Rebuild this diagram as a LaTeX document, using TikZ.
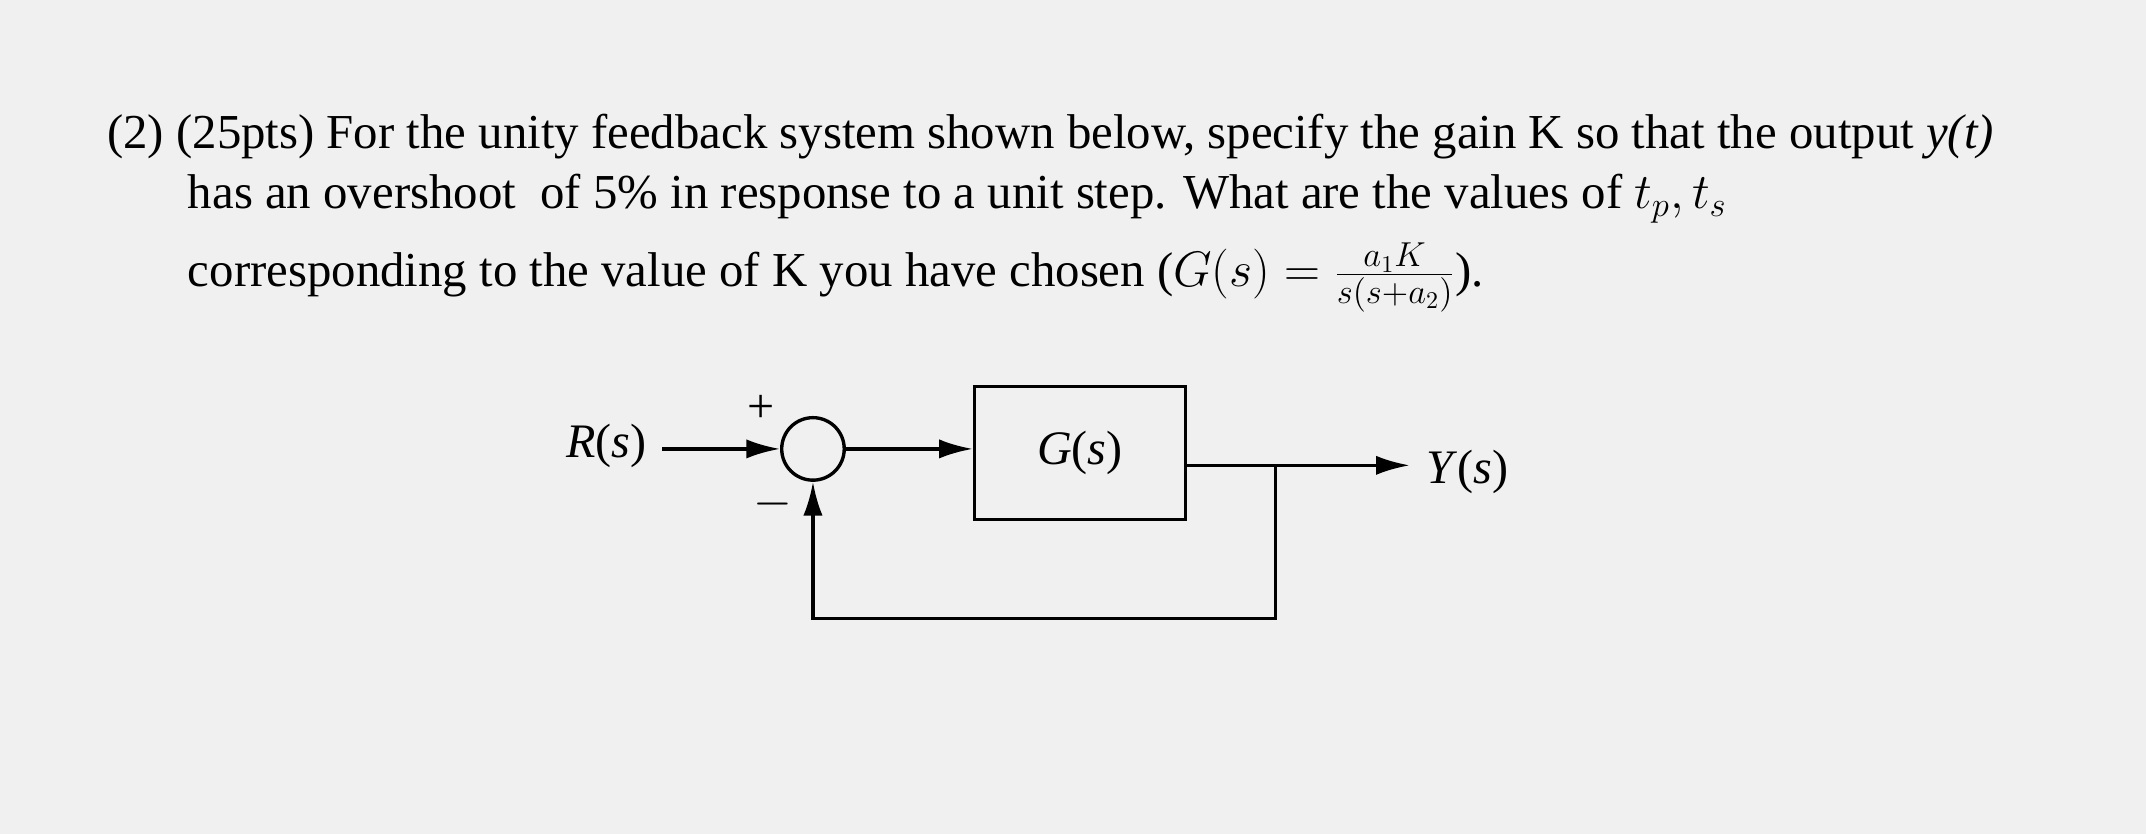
\documentclass[tikz,border=0pt]{standalone}
\usepackage{fontspec}
\setmainfont{Liberation Serif}
\usetikzlibrary{arrows.meta}
\begin{document}
\begin{tikzpicture}[x=0.02cm,y=-0.02cm,
  txt/.style={anchor=west,inner sep=0pt,font=\fontsize{20.3}{24}\selectfont},
  lbl/.style={inner sep=0pt,font=\fontsize{20}{24}\selectfont},
  sig/.style={line width=1.4pt},
  arr/.style={sig,-{Latex[length=14pt,width=8pt]}}]
\fill[gray!12] (0,0) rectangle (1568,609);
\useasboundingbox (0,0) rectangle (1568,609);
\node[txt] (l1) at (78,100) {(2) (25pts) For the unity feedback system shown below, specify the gain K so that the output \textit{y(t)}};
\node[txt] (l2) at (137,145) {has an overshoot~~of 5\% in response to a unit step. What are the values of $t_p, t_s$};
\node[txt] (l3) at (137,203) {corresponding to the value of K you have chosen ($G(s)=\frac{a_1K}{s(s+a_2)}$).};
\node[lbl] (r) at (443,326) {\textit{R}(\textit{s})};
\node[draw,sig,circle,minimum size=26pt,inner sep=0pt] (c) at (594,328) {};
\node[lbl] (p) at (556,299) {+};
\node[lbl] (m) at (565,368) {$-$};
\node[draw,sig,minimum width=3.08cm,minimum height=1.94cm,inner sep=0pt] (gb) at (789,331) {\fontsize{20}{24}\selectfont\textit{G}(\textit{s})};
\node[lbl] (y) at (1072,345) {\textit{Y}(\textit{s})};
\coordinate (o1) at (932,340);
\coordinate (o2) at (932,452);
\coordinate (o3) at (594,452);
\coordinate (oe) at (1030,340);
\coordinate (ri) at (484,328);
\draw[arr] (ri) -- (c.west);
\draw[arr] (c.east) -- (gb.west |- c.east);
\draw[arr] (gb.east |- o1) -- (oe);
\draw[arr] (o1) -- (o2) -- (o3) -- (c.south);
\end{tikzpicture}
\end{document}
